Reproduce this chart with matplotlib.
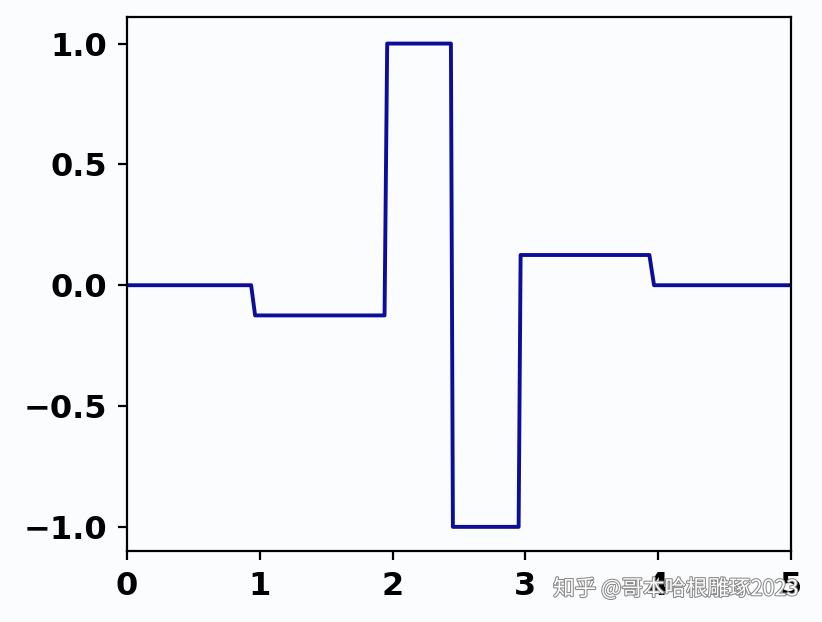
import matplotlib.pyplot as plt
import matplotlib.patheffects as pe

plt.rcParams['font.family'] = ['DejaVu Sans', 'Noto Sans CJK SC']

# corner points of the step signal
x_pts = [0, 0.935, 0.965, 1.94, 1.96, 2.44, 2.455, 2.95, 2.965, 3.935, 3.97, 4.985]
y_pts = [0, 0, -0.125, -0.125, 1, 1, -1, -1, 0.125, 0.125, 0, 0]

x_ticks = [0, 1, 2, 3, 4, 5]
y_ticks = [-1.0, -0.5, 0.0, 0.5, 1.0]

fig = plt.figure(figsize=(8.22, 6.22), dpi=100, facecolor='#fbfcfe')
ax = fig.add_axes([0.1545, 0.1141, 0.8075, 0.8586])
ax.set_facecolor('#fbfcfe')

ax.plot(x_pts, y_pts, color='#0d0d9c', lw=2.8)

ax.set_xlim(0, 5)
ax.set_ylim(-1.1, 1.11)
ax.set_xticks(x_ticks)
ax.set_yticks(y_ticks)
ax.set_xticklabels([str(t) for t in x_ticks])
ax.set_yticklabels(['\u22121.0', '\u22120.5', '0.0', '0.5', '1.0'])

for s in ax.spines.values():
    s.set_linewidth(1.6)
ax.tick_params(length=6.5, width=1.6, labelsize=23, pad=8)
for lab in ax.get_xticklabels() + ax.get_yticklabels():
    lab.set_fontweight('bold')

# watermark
fig.text(0.673, 0.043, '知乎 @哥本哈根雕琢2023', fontsize=15.5,
         family=['Noto Sans CJK SC', 'DejaVu Sans'], color='white',
         path_effects=[pe.withStroke(linewidth=1.5, foreground='#888888')])

fig.savefig('out.png', dpi=100, facecolor=fig.get_facecolor())
